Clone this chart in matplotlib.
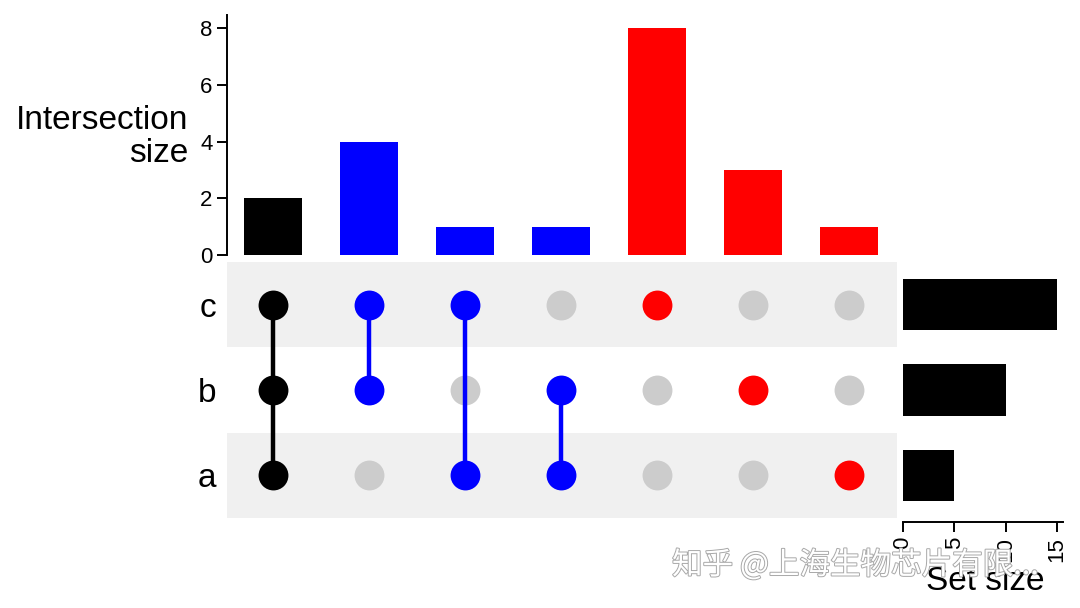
import matplotlib

matplotlib.use("Agg")
import matplotlib.pyplot as plt
import matplotlib.patheffects as pe

plt.rcParams["font.family"] = ["Liberation Sans", "Noto Sans CJK SC", "DejaVu Sans"]

# --- data ---
SETS = ["a", "b", "c"]
SET_SIZES = [5, 10, 15]
INTER_SIZES = [2, 4, 1, 1, 8, 3, 1]
MEMBERS = [["a", "b", "c"], ["b", "c"], ["a", "c"], ["a", "b"], ["c"], ["b"], ["a"]]
COLORS = ["black", "#0000ff", "#0000ff", "#0000ff", "#ff0000", "#ff0000", "#ff0000"]
Y_TICKS = [0, 2, 4, 6, 8]
SET_TICKS = [0, 5, 10, 15]

W, H = 1080, 608
fig = plt.figure(figsize=(W / 100, H / 100), dpi=100)


def box(x0, y0, x1, y1):
    return [x0 / W, 1 - y1 / H, (x1 - x0) / W, (y1 - y0) / H]


n = len(INTER_SIZES)
xs = list(range(n))
xlim = (-0.48, n - 0.5)

# --- intersection size bars ---
ax_top = fig.add_axes(box(227, 15, 897, 255))
ax_top.bar(xs, INTER_SIZES, width=0.6, color=COLORS)
ax_top.set_xlim(*xlim)
ax_top.set_ylim(0, 8.46)
ax_top.set_yticks(Y_TICKS)
ax_top.tick_params(axis="y", labelsize=16, length=7, width=1.4)
ax_top.set_xticks([])
for s in ("top", "right", "bottom"):
    ax_top.spines[s].set_visible(False)
ax_top.spines["left"].set_linewidth(1.4)

# --- matrix ---
ax_m = fig.add_axes(box(227, 262, 897, 518))
ax_m.set_xlim(*xlim)
ax_m.set_ylim(-0.5, len(SETS) - 0.5)
for i in range(len(SETS)):
    if i % 2 == 0:
        ax_m.axhspan(i - 0.5, i + 0.5, color="#f0f0f0", lw=0, zorder=0)
for x, mem, col in zip(xs, MEMBERS, COLORS):
    ys = [SETS.index(m) for m in mem]
    for j in range(len(SETS)):
        if j not in ys:
            ax_m.plot(x, j, "o", ms=21.5, color="#cccccc", mec="none", zorder=2)
    if len(ys) > 1:
        ax_m.plot([x, x], [min(ys), max(ys)], color=col, lw=3.2, zorder=3)
    ax_m.plot([x] * len(ys), ys, "o", ms=21.5, color=col, mec="none", zorder=4)
ax_m.set_yticks(range(len(SETS)), SETS)
ax_m.tick_params(axis="y", labelsize=24, length=0, pad=8)
ax_m.set_xticks([])
for s in ax_m.spines.values():
    s.set_visible(False)

# --- set size bars ---
ax_s = fig.add_axes(box(903, 262, 1063, 518))
ax_s.barh(range(len(SETS)), SET_SIZES, height=0.6, color="black")
ax_s.set_ylim(-0.5, len(SETS) - 0.5)
ax_s.set_xlim(0, 15.6)
ax_s.set_xticks(SET_TICKS, [str(t) for t in SET_TICKS])
ax_s.tick_params(axis="x", labelsize=16, length=7, width=1.4, labelrotation=90)
ax_s.set_yticks([])
for s in ("top", "right", "left"):
    ax_s.spines[s].set_visible(False)
ax_s.spines["bottom"].set_linewidth(1.4)
ax_s.spines["bottom"].set_position(("outward", 3))

# --- labels ---
fig.text(188 / W, 1 - 137 / H, "Intersection\nsize", ha="right", va="center",
         multialignment="right", fontsize=24, linespacing=1.05)
fig.text(985 / W, 1 - 582 / H, "Set size", ha="center", va="center", fontsize=24)

# watermark
fig.text(672 / W, 1 - 565 / H, "知乎 @上海生物芯片有限...", ha="left", va="center",
         fontsize=22, color="white", zorder=10,
         family=["Noto Sans CJK SC", "DejaVu Sans"],
         path_effects=[pe.withStroke(linewidth=1.4, foreground="#a8a8a8")])

fig.savefig("out.png", dpi=100)
